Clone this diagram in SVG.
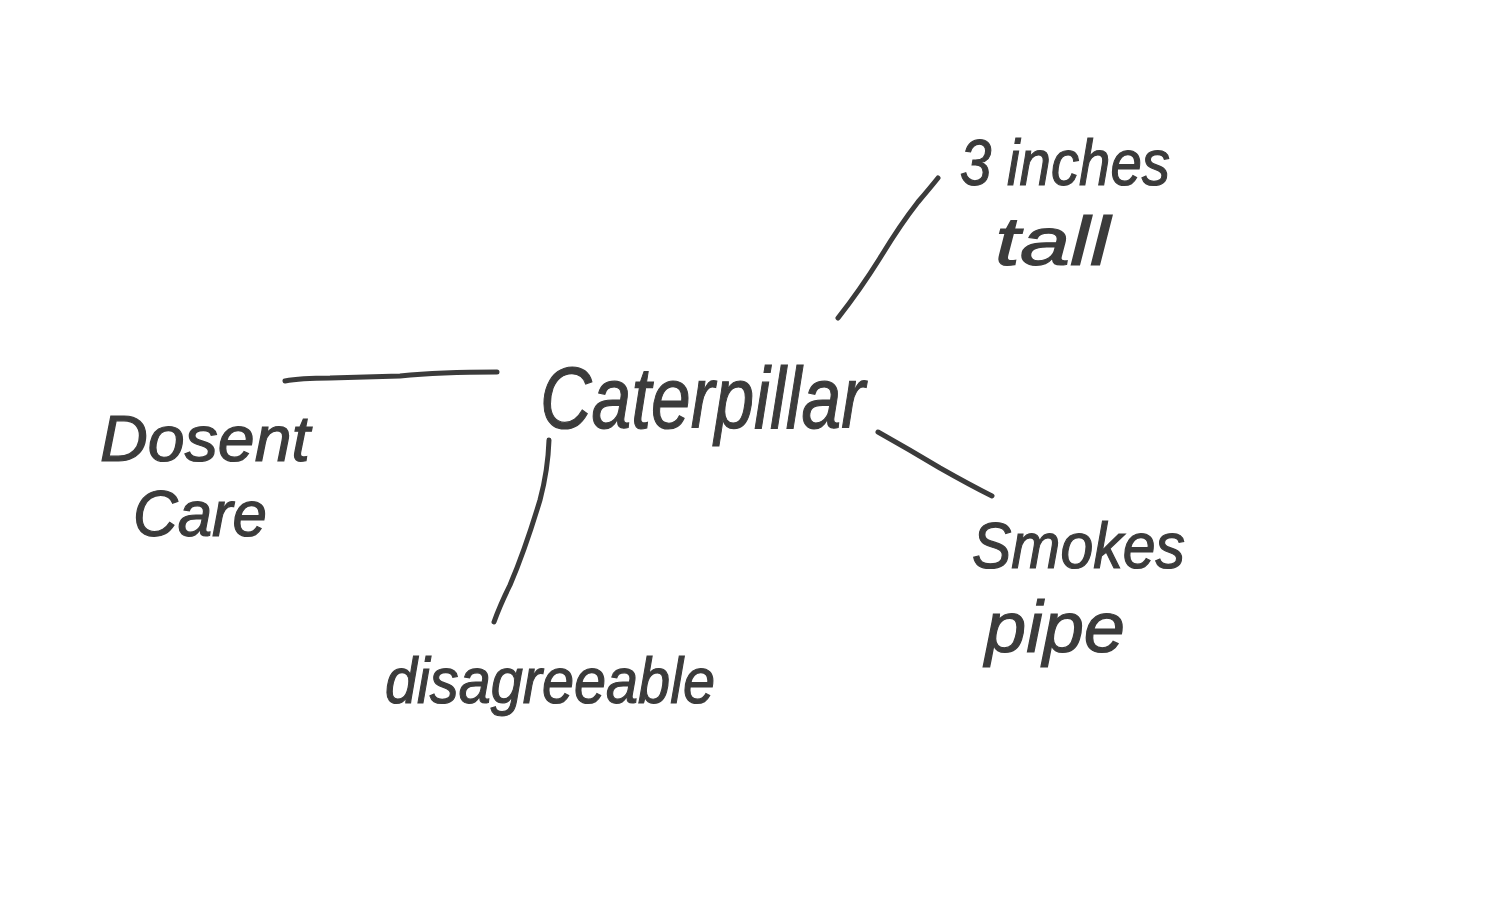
<svg xmlns="http://www.w3.org/2000/svg" width="1500" height="900" viewBox="0 0 1500 900">
<style>
.t{font-family:"Liberation Sans","DejaVu Sans",sans-serif;font-style:italic;fill:#3b3b3b;stroke:#3b3b3b;stroke-width:1.2}
.c{fill:none;stroke:#3b3b3b;stroke-width:5;stroke-linecap:round;stroke-linejoin:round}
</style>
<rect width="1500" height="900" fill="#ffffff"/>
<g id="connectors">
<path class="c" d="M285,381 Q300,378 330,378 L400,376 Q440,372 497,372"/>
<path class="c" d="M838,318 Q860,290 880,258 Q900,225 918,202 Q930,188 938,178"/>
<path class="c" d="M878,432 Q910,450 940,468 Q970,485 992,496"/>
<path class="c" d="M549,440 Q548,470 540,500 Q525,550 510,585 Q500,605 494,622"/>
</g>
<g id="node-caterpillar">
<text class="t" x="540" y="428" font-size="88" textLength="325" lengthAdjust="spacingAndGlyphs">Caterpillar</text>
</g>
<g id="node-dosent-care">
<text class="t" x="100" y="461" font-size="64" textLength="210" lengthAdjust="spacingAndGlyphs">Dosent</text>
<text class="t" x="133" y="536" font-size="64" textLength="134" lengthAdjust="spacingAndGlyphs">Care</text>
</g>
<g id="node-3-inches-tall">
<text class="t" x="960" y="185" font-size="64" textLength="210" lengthAdjust="spacingAndGlyphs">3 inches</text>
<text class="t" x="995" y="265" font-size="68" textLength="115" lengthAdjust="spacingAndGlyphs">tall</text>
</g>
<g id="node-smokes-pipe">
<text class="t" x="972" y="568" font-size="64" textLength="213" lengthAdjust="spacingAndGlyphs">Smokes</text>
<text class="t" x="985" y="652" font-size="72" textLength="140" lengthAdjust="spacingAndGlyphs">pipe</text>
</g>
<g id="node-disagreeable">
<text class="t" x="385" y="703" font-size="64" textLength="330" lengthAdjust="spacingAndGlyphs">disagreeable</text>
</g>
</svg>
